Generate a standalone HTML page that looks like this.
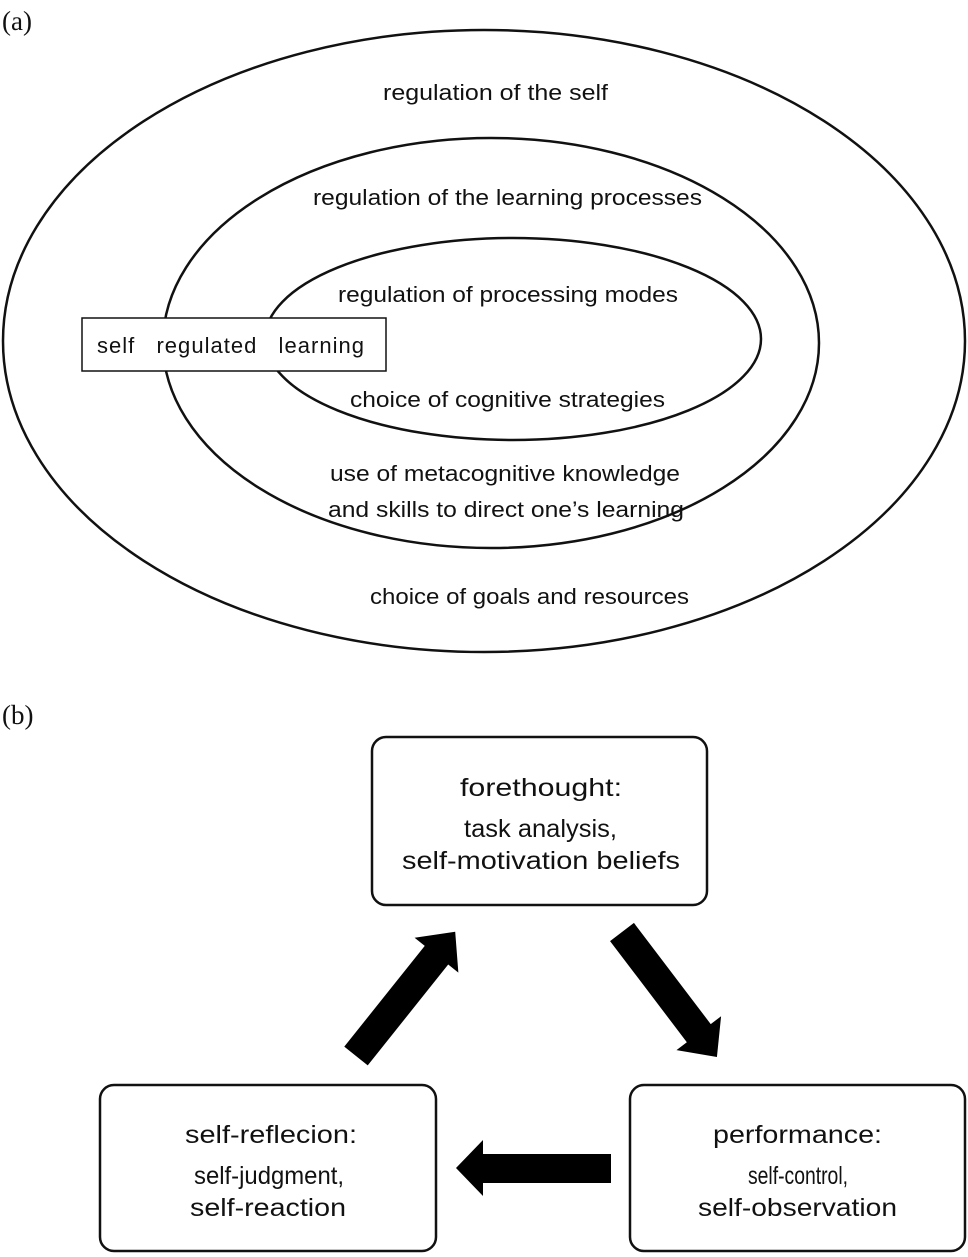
<!DOCTYPE html>
<html><head><style>
body{margin:0;background:#fff}
svg{display:block}
text{font-family:"Liberation Sans",sans-serif;fill:#111}
</style></head><body>
<svg width="968" height="1257" viewBox="0 0 968 1257">
<text x="2" y="30" style="font-family:'Liberation Serif',serif;font-size:27px">(a)</text>
<text x="2" y="724" style="font-family:'Liberation Serif',serif;font-size:27px">(b)</text>
<g fill="none" stroke="#111" stroke-width="2.5">
<ellipse cx="484" cy="341" rx="481" ry="311"/>
<ellipse cx="491" cy="343" rx="328" ry="205"/>
<ellipse cx="513" cy="339" rx="248" ry="101"/>
</g>
<rect x="82" y="318" width="304" height="53" fill="#fff" stroke="#111" stroke-width="1.5"/>
<g font-size="22" lengthAdjust="spacingAndGlyphs">
<text x="383" y="100" textLength="225" lengthAdjust="spacingAndGlyphs">regulation of the self</text>
<text x="313" y="205" textLength="389" lengthAdjust="spacingAndGlyphs">regulation of the learning processes</text>
<text x="338" y="302" textLength="340" lengthAdjust="spacingAndGlyphs">regulation of processing modes</text>
<text x="350" y="407" textLength="315" lengthAdjust="spacingAndGlyphs">choice of cognitive strategies</text>
<text x="330" y="481" textLength="350" lengthAdjust="spacingAndGlyphs">use of metacognitive knowledge</text>
<text x="328" y="517" textLength="356" lengthAdjust="spacingAndGlyphs">and skills to direct one’s learning</text>
<text x="370" y="604" textLength="319" lengthAdjust="spacingAndGlyphs">choice of goals and resources</text>
<text x="97" y="353" textLength="267" lengthAdjust="spacing" word-spacing="14">self regulated learning</text>
</g>
<g fill="#fff" stroke="#111" stroke-width="2.5">
<rect x="372" y="737" width="335" height="168" rx="14"/>
<rect x="100" y="1085" width="336" height="166" rx="14"/>
<rect x="630" y="1085" width="335" height="166" rx="14"/>
</g>
<g font-size="25">
<text x="460" y="796" textLength="162" lengthAdjust="spacingAndGlyphs">forethought:</text>
<text x="464" y="837" textLength="153" lengthAdjust="spacingAndGlyphs">task analysis,</text>
<text x="402" y="869" textLength="278" lengthAdjust="spacingAndGlyphs">self-motivation beliefs</text>
<text x="185" y="1143" textLength="172" lengthAdjust="spacingAndGlyphs">self-reflecion:</text>
<text x="194" y="1184" textLength="150" lengthAdjust="spacingAndGlyphs">self-judgment,</text>
<text x="190" y="1216" textLength="156" lengthAdjust="spacingAndGlyphs">self-reaction</text>
<text x="713" y="1143" textLength="169" lengthAdjust="spacingAndGlyphs">performance:</text>
<text x="748" y="1184" textLength="100" lengthAdjust="spacingAndGlyphs">self-control,</text>
<text x="698" y="1216" textLength="199" lengthAdjust="spacingAndGlyphs">self-observation</text>
</g>
<g fill="#000">
<path transform="translate(356,1056) rotate(-51.4)" d="M0,-15 L129,-15 L129,-28 L159,0 L129,28 L129,15 L0,15Z"/>
<path transform="translate(622,932) rotate(52.8)" d="M0,-15 L127,-15 L127,-28 L157,0 L127,28 L127,15 L0,15Z"/>
<path d="M611,1154 L483,1154 L483,1140 L456,1168 L483,1196 L483,1183 L611,1183Z"/>
</g>
</svg>
</body></html>
